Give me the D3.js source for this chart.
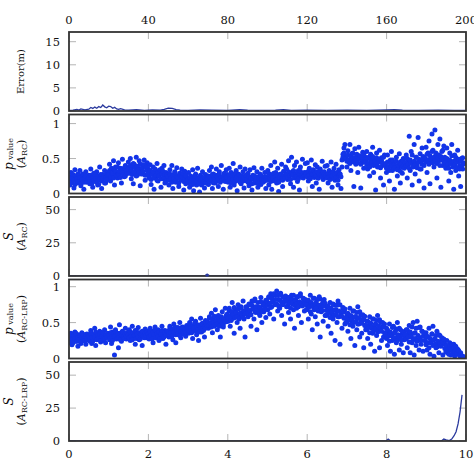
<!DOCTYPE html>
<html>
<head>
<meta charset="utf-8">
<script src="https://cdn.jsdelivr.net/npm/d3@7"></script>
<style>
  body { margin: 0; background: #fff; }
  text { font-family: "DejaVu Serif", "Liberation Serif", serif; fill: #111; }
</style>
</head>
<body>
<script>
var w = 474, h = 474,
    left = 69, right = 466,
    panelH = 79, panelGap = 3.5, firstTop = 32;

// top axis (time steps) and bottom axis
var topTicks = [0, 40, 80, 120, 160, 200],
    bottomTicks = [0, 2, 4, 6, 8, 10];

// panel 1: localisation error, over the 0..200 steps
var errT = [0, 2, 4, 5, 6, 8, 10, 11, 12, 13, 14, 15, 16, 17, 18, 19, 20, 21, 22, 23, 24, 25, 26, 28, 30, 34, 38, 42, 46, 48, 50, 52, 54, 56, 60, 66, 72, 80, 86, 90, 96, 104, 108, 112, 120, 130, 140, 150, 160, 164, 168, 176, 186, 194, 200];
var errV = [0.15, 0.2, 0.35, 0.2, 0.45, 0.25, 0.4, 0.75, 0.55, 0.85, 0.6, 0.95, 0.75, 1.3, 0.9, 0.7, 1.05, 0.95, 0.6, 0.8, 0.45, 0.35, 0.5, 0.25, 0.2, 0.3, 0.15, 0.25, 0.2, 0.35, 0.6, 0.55, 0.3, 0.2, 0.15, 0.25, 0.2, 0.15, 0.3, 0.2, 0.15, 0.2, 0.3, 0.15, 0.2, 0.15, 0.2, 0.15, 0.25, 0.3, 0.2, 0.15, 0.2, 0.15, 0.15];

// panel 2: p value A_RC, two runs of equally spaced samples from 0 to tEnd
var tEnd = 9.94;
var pArc = [
  0.21,0.12,0.30,0.18,0.25,0.08,0.34,0.22,0.15,0.28,0.19,0.33,0.11,0.24,0.27,0.06,0.20,0.31,0.16,0.23,
  0.26,0.14,0.35,0.20,0.09,0.29,0.22,0.17,0.31,0.12,0.25,0.38,0.19,0.07,0.27,0.23,0.33,0.15,0.28,0.21,
  0.30,0.42,0.18,0.35,0.26,0.47,0.12,0.38,0.31,0.22,0.44,0.28,0.36,0.15,0.49,0.33,0.24,0.40,0.29,0.37,
  0.45,0.32,0.50,0.21,0.38,0.14,0.42,0.30,0.52,0.26,0.36,0.47,0.11,0.34,0.41,0.28,0.48,0.19,0.39,0.44,
  0.35,0.22,0.41,0.13,0.29,0.38,0.06,0.31,0.25,0.43,0.18,0.33,0.27,0.09,0.36,0.21,0.40,0.15,0.30,0.24,
  0.28,0.12,0.34,0.20,0.40,0.07,0.25,0.31,0.16,0.37,0.23,0.10,0.29,0.19,0.35,0.26,0.05,0.32,0.14,0.22,
  0.20,0.30,0.09,0.25,0.16,0.34,0.04,0.22,0.28,0.12,0.36,0.18,0.02,0.26,0.14,0.31,0.21,0.08,0.27,0.17,
  0.24,0.13,0.33,0.19,0.38,0.07,0.28,0.22,0.15,0.35,0.26,0.10,0.31,0.18,0.40,0.23,0.06,0.29,0.20,0.34,
  0.27,0.16,0.36,0.09,0.30,0.22,0.43,0.12,0.25,0.33,0.04,0.28,0.19,0.38,0.14,0.24,0.31,0.08,0.35,0.21,
  0.18,0.29,0.11,0.34,0.22,0.05,0.26,0.37,0.15,0.24,0.31,0.09,0.20,0.28,0.13,0.36,0.23,0.17,0.30,0.07,
  0.22,0.33,0.12,0.28,0.40,0.06,0.25,0.19,0.45,0.30,0.15,0.36,0.03,0.27,0.21,0.42,0.10,0.32,0.24,0.38,
  0.35,0.20,0.47,0.28,0.14,0.52,0.31,0.09,0.40,0.24,0.45,0.17,0.33,0.05,0.38,0.27,0.49,0.22,0.30,0.43,
  0.30,0.44,0.18,0.36,0.25,0.48,0.10,0.33,0.27,0.41,0.15,0.38,0.22,0.06,0.35,0.29,0.46,0.20,0.31,0.39,
  0.27,0.40,0.15,0.33,0.22,0.45,0.09,0.30,0.36,0.19,0.42,0.25,0.12,0.34,0.28,0.07,0.38,0.56,0.65,0.70,
  0.52,0.38,0.61,0.45,0.70,0.33,0.57,0.48,0.10,0.64,0.42,0.55,0.30,0.66,0.50,0.08,0.44,0.59,0.36,0.53,
  0.47,0.60,0.35,0.52,0.25,0.56,0.42,0.66,0.30,0.49,0.05,0.58,0.38,0.45,0.62,0.22,0.51,0.40,0.12,0.55,
  0.43,0.30,0.55,0.38,0.18,0.48,0.60,0.33,0.45,0.06,0.40,0.52,0.25,0.36,0.57,0.15,0.46,0.29,0.50,0.41,
  0.38,0.55,0.22,0.47,0.82,0.33,0.60,0.12,0.44,0.70,0.28,0.52,0.40,0.80,0.18,0.57,0.35,0.65,0.48,0.08,
  0.50,0.66,0.30,0.58,0.75,0.14,0.45,0.85,0.62,0.38,0.91,0.55,0.22,0.70,0.47,0.78,0.09,0.60,0.40,0.68,
  0.52,0.36,0.65,0.45,0.18,0.58,0.30,0.70,0.42,0.06,0.55,0.33,0.48,0.62,0.25,0.40,0.10,0.50,0.35,0.44
];
var pArcB = [
  0.18,0.24,0.15,0.22,0.27,0.19,0.13,0.25,0.21,0.17,0.26,0.23,0.14,0.20,0.28,0.16,0.22,0.25,0.18,0.21,
  0.22,0.17,0.26,0.14,0.23,0.19,0.28,0.21,0.16,0.24,0.13,0.20,0.27,0.18,0.22,0.25,0.15,0.23,0.19,0.26,
  0.27,0.33,0.24,0.36,0.29,0.22,0.34,0.31,0.26,0.38,0.28,0.32,0.23,0.35,0.30,0.27,0.37,0.25,0.33,0.29,
  0.35,0.29,0.40,0.33,0.27,0.43,0.31,0.37,0.25,0.39,0.34,0.30,0.42,0.28,0.36,0.32,0.41,0.26,0.38,0.33,
  0.29,0.24,0.33,0.20,0.27,0.31,0.22,0.35,0.26,0.19,0.30,0.25,0.34,0.21,0.28,0.32,0.23,0.27,0.18,0.26,
  0.24,0.19,0.28,0.22,0.16,0.26,0.21,0.30,0.18,0.25,0.23,0.15,0.27,0.20,0.24,0.29,0.17,0.22,0.26,0.19,
  0.19,0.15,0.23,0.17,0.21,0.13,0.20,0.25,0.16,0.18,0.22,0.14,0.24,0.19,0.12,0.21,0.17,0.23,0.15,0.20,
  0.21,0.25,0.17,0.23,0.19,0.27,0.15,0.22,0.26,0.18,0.24,0.20,0.28,0.16,0.23,0.19,0.25,0.21,0.17,0.24,
  0.23,0.18,0.26,0.21,0.15,0.25,0.20,0.28,0.17,0.22,0.24,0.19,0.27,0.16,0.21,0.25,0.18,0.23,0.20,0.26,
  0.20,0.16,0.24,0.18,0.22,0.14,0.21,0.25,0.17,0.19,0.23,0.15,0.22,0.18,0.26,0.20,0.16,0.21,0.24,0.19,
  0.23,0.19,0.27,0.21,0.17,0.25,0.22,0.29,0.18,0.24,0.20,0.26,0.16,0.23,0.28,0.21,0.19,0.25,0.22,0.27,
  0.27,0.23,0.31,0.25,0.20,0.29,0.26,0.33,0.22,0.28,0.24,0.30,0.21,0.27,0.32,0.25,0.23,0.29,0.26,0.28,
  0.28,0.24,0.32,0.26,0.21,0.30,0.27,0.34,0.23,0.29,0.25,0.31,0.22,0.28,0.33,0.26,0.24,0.30,0.27,0.25,
  0.26,0.22,0.29,0.24,0.20,0.28,0.25,0.31,0.21,0.27,0.23,0.30,0.19,0.26,0.28,0.24,0.48,0.52,0.58,0.50,
  0.50,0.46,0.55,0.48,0.43,0.53,0.49,0.58,0.45,0.51,0.47,0.56,0.44,0.50,0.54,0.42,0.52,0.48,0.57,0.46,
  0.45,0.41,0.50,0.43,0.38,0.48,0.44,0.53,0.40,0.46,0.42,0.51,0.39,0.45,0.49,0.37,0.47,0.43,0.52,0.41,
  0.40,0.36,0.45,0.38,0.33,0.43,0.39,0.48,0.35,0.41,0.37,0.46,0.34,0.40,0.44,0.32,0.42,0.38,0.47,0.36,
  0.44,0.40,0.50,0.42,0.36,0.48,0.43,0.55,0.38,0.46,0.41,0.52,0.37,0.45,0.49,0.35,0.47,0.42,0.53,0.40,
  0.50,0.45,0.56,0.48,0.42,0.54,0.49,0.60,0.44,0.52,0.47,0.58,0.43,0.51,0.55,0.40,0.53,0.48,0.62,0.46,
  0.44,0.39,0.50,0.42,0.36,0.48,0.43,0.54,0.38,0.46,0.41,0.52,0.37,0.45,0.49,0.35,0.47,0.40,0.51,0.42
];

// panel 3: S for A_RC
var sArcT = [0, 3.40, 3.48, 3.56, 9.94];
var sArcV = [0, 0, 1.2, 0, 0];

// panel 4: p value A_RC-LRP, two runs
var pLrp = [
  0.28,0.22,0.35,0.19,0.31,0.26,0.37,0.24,0.30,0.17,0.33,0.27,0.21,0.36,0.29,0.25,0.32,0.20,0.34,0.26,
  0.30,0.24,0.39,0.21,0.33,0.28,0.42,0.18,0.35,0.27,0.31,0.38,0.23,0.29,0.36,0.25,0.40,0.22,0.32,0.34,
  0.33,0.26,0.44,0.21,0.37,0.30,0.05,0.40,0.28,0.35,0.15,0.47,0.31,0.24,0.38,0.34,0.29,0.42,0.27,0.36,
  0.32,0.40,0.25,0.36,0.45,0.28,0.34,0.20,0.39,0.31,0.43,0.26,0.35,0.30,0.18,0.37,0.33,0.41,0.29,0.38,
  0.34,0.27,0.42,0.31,0.38,0.22,0.36,0.44,0.29,0.33,0.40,0.25,0.37,0.31,0.45,0.28,0.35,0.39,0.20,0.32,
  0.37,0.30,0.45,0.34,0.41,0.26,0.48,0.36,0.22,0.39,0.43,0.33,0.50,0.29,0.38,0.44,0.35,0.40,0.31,0.46,
  0.42,0.35,0.50,0.38,0.55,0.28,0.45,0.40,0.52,0.33,0.47,0.25,0.43,0.56,0.37,0.49,0.41,0.30,0.53,0.44,
  0.50,0.42,0.58,0.47,0.63,0.36,0.55,0.45,0.68,0.52,0.40,0.60,0.48,0.30,0.57,0.65,0.44,0.54,0.70,0.51,
  0.60,0.52,0.70,0.45,0.65,0.78,0.56,0.35,0.68,0.62,0.50,0.75,0.58,0.42,0.72,0.64,0.80,0.55,0.30,0.67,
  0.66,0.58,0.75,0.62,0.45,0.80,0.70,0.55,0.83,0.64,0.40,0.72,0.68,0.60,0.85,0.50,0.74,0.65,0.78,0.57,
  0.75,0.68,0.85,0.62,0.90,0.72,0.80,0.55,0.88,0.76,0.94,0.66,0.82,0.70,0.91,0.60,0.86,0.78,0.48,0.84,
  0.72,0.85,0.64,0.80,0.55,0.88,0.76,0.68,0.42,0.82,0.70,0.86,0.60,0.78,0.90,0.50,0.74,0.83,0.66,0.79,
  0.68,0.80,0.55,0.75,0.88,0.62,0.40,0.72,0.84,0.58,0.78,0.48,0.70,0.86,0.30,0.65,0.76,0.52,0.82,0.60,
  0.60,0.72,0.45,0.66,0.78,0.35,0.62,0.55,0.75,0.25,0.68,0.50,0.80,0.58,0.20,0.64,0.42,0.70,0.56,0.48,
  0.50,0.62,0.38,0.56,0.70,0.28,0.52,0.45,0.66,0.18,0.58,0.40,0.72,0.48,0.30,0.60,0.35,0.54,0.15,0.46,
  0.40,0.52,0.28,0.46,0.58,0.20,0.42,0.35,0.55,0.10,0.48,0.32,0.60,0.38,0.15,0.50,0.25,0.44,0.30,0.36,
  0.30,0.42,0.18,0.35,0.48,0.10,0.32,0.25,0.45,0.06,0.38,0.22,0.50,0.28,0.12,0.40,0.20,0.34,0.08,0.26,
  0.28,0.40,0.15,0.34,0.46,0.08,0.30,0.22,0.50,0.05,0.36,0.18,0.52,0.26,0.12,0.44,0.20,0.38,0.10,0.32,
  0.25,0.36,0.12,0.30,0.42,0.06,0.22,0.34,0.45,0.03,0.28,0.15,0.38,0.20,0.08,0.32,0.18,0.26,0.05,0.24,
  0.20,0.14,0.25,0.08,0.18,0.22,0.05,0.15,0.12,0.20,0.03,0.10,0.14,0.07,0.09,0.04,0.06,0.02,0.03,0.01
];
var pLrpB = [
  0.30,0.25,0.33,0.27,0.22,0.31,0.28,0.35,0.24,0.29,0.26,0.32,0.23,0.30,0.34,0.27,0.25,0.31,0.28,0.33,
  0.31,0.27,0.35,0.29,0.24,0.33,0.30,0.37,0.26,0.32,0.28,0.34,0.25,0.31,0.36,0.29,0.27,0.33,0.30,0.35,
  0.32,0.28,0.36,0.30,0.25,0.34,0.31,0.38,0.27,0.33,0.29,0.35,0.26,0.32,0.37,0.30,0.28,0.34,0.31,0.36,
  0.33,0.29,0.37,0.31,0.26,0.35,0.32,0.39,0.28,0.34,0.30,0.36,0.27,0.33,0.38,0.31,0.29,0.35,0.32,0.37,
  0.34,0.30,0.38,0.32,0.27,0.36,0.33,0.40,0.29,0.35,0.31,0.37,0.28,0.34,0.39,0.32,0.30,0.36,0.33,0.38,
  0.38,0.34,0.42,0.36,0.31,0.40,0.37,0.44,0.33,0.39,0.35,0.41,0.32,0.38,0.43,0.36,0.34,0.40,0.37,0.42,
  0.43,0.39,0.47,0.41,0.36,0.45,0.42,0.49,0.38,0.44,0.40,0.46,0.37,0.43,0.48,0.41,0.39,0.45,0.42,0.47,
  0.51,0.46,0.56,0.49,0.44,0.54,0.50,0.59,0.47,0.53,0.48,0.57,0.45,0.52,0.58,0.49,0.47,0.55,0.51,0.60,
  0.62,0.56,0.67,0.59,0.53,0.65,0.61,0.71,0.57,0.64,0.58,0.69,0.55,0.63,0.70,0.60,0.57,0.66,0.62,0.72,
  0.70,0.64,0.76,0.67,0.61,0.74,0.69,0.80,0.65,0.72,0.66,0.78,0.63,0.71,0.79,0.68,0.65,0.75,0.70,0.81,
  0.80,0.74,0.86,0.77,0.71,0.84,0.79,0.90,0.75,0.82,0.76,0.88,0.73,0.81,0.89,0.78,0.75,0.85,0.80,0.87,
  0.80,0.74,0.85,0.77,0.70,0.83,0.78,0.88,0.74,0.81,0.76,0.86,0.72,0.79,0.87,0.77,0.73,0.84,0.79,0.82,
  0.75,0.69,0.81,0.72,0.65,0.78,0.73,0.84,0.68,0.76,0.70,0.82,0.66,0.74,0.83,0.71,0.67,0.79,0.73,0.77,
  0.67,0.61,0.73,0.64,0.57,0.70,0.65,0.76,0.60,0.68,0.62,0.74,0.58,0.66,0.75,0.63,0.59,0.71,0.65,0.69,
  0.57,0.51,0.63,0.54,0.47,0.60,0.55,0.66,0.50,0.58,0.52,0.64,0.48,0.56,0.65,0.53,0.49,0.61,0.55,0.59,
  0.46,0.40,0.52,0.43,0.36,0.49,0.44,0.55,0.39,0.47,0.41,0.53,0.37,0.45,0.54,0.42,0.38,0.50,0.44,0.48,
  0.34,0.28,0.40,0.31,0.24,0.37,0.32,0.43,0.27,0.35,0.29,0.41,0.25,0.33,0.42,0.30,0.26,0.38,0.32,0.36,
  0.33,0.27,0.40,0.30,0.23,0.37,0.31,0.44,0.26,0.35,0.28,0.42,0.24,0.32,0.43,0.29,0.25,0.38,0.31,0.36,
  0.25,0.19,0.31,0.22,0.15,0.28,0.23,0.34,0.18,0.26,0.20,0.32,0.16,0.24,0.33,0.21,0.17,0.29,0.23,0.27,
  0.14,0.09,0.18,0.11,0.06,0.16,0.12,0.20,0.08,0.15,0.10,0.17,0.07,0.13,0.11,0.05,0.08,0.04,0.03,0.02
];

// panel 5: S for A_RC-LRP
var sLrpT = [0, 7.98, 8.04, 8.10, 9.38, 9.44, 9.50, 9.58, 9.64, 9.70, 9.75, 9.80, 9.85, 9.90];
var sLrpV = [0, 0, 1.5, 0, 0, 1.5, 0.8, 0.3, 1.5, 4, 7, 13, 22, 35];

var lineColor = "#2b3a9e", dotColor = "#1234e8";

var svg = d3.select("body").append("svg")
    .attr("width", w)
    .attr("height", h)

var x = d3.scaleLinear().domain([0, 10]).range([left, right]),
    xTop = d3.scaleLinear().domain([0, 200]).range([left, right]),
    idx = function (n) { return d3.scaleLinear().domain([0, n - 1]).range([0, tEnd]) };

var halfFmt = function (d) { return d === 0.5 ? "0.5" : d };
var panels = [
  { max: 17.1, ticks: [0, 5, 10, 15], fmt: d3.format("d") },
  { max: 1.13, ticks: [0, 0.5, 1], fmt: halfFmt },
  { max: 59.5, ticks: [0, 25, 50], fmt: d3.format("d") },
  { max: 1.1, ticks: [0, 0.5, 1], fmt: halfFmt },
  { max: 60, ticks: [0, 25, 50], fmt: d3.format("d") }
];

panels.forEach(function (p, i) {
  var top = firstTop + i * (panelH + panelGap), bottom = top + panelH;
  p.top = top; p.bottom = bottom;
  p.y = d3.scaleLinear().domain([0, p.max]).range([bottom, top]);

  var g = svg.append("g").attr("class", "panel");

  svg.append("clipPath").attr("id", "clip" + i)
    .append("rect").attr("x", left).attr("y", top).attr("width", right - left).attr("height", panelH);

  // inner tick marks
  var tk = g.append("g").attr("stroke", "#b4b4b4").attr("stroke-width", 1);
  bottomTicks.forEach(function (t) {
    tk.append("line").attr("x1", x(t)).attr("x2", x(t)).attr("y1", top).attr("y2", top + 7);
    tk.append("line").attr("x1", x(t)).attr("x2", x(t)).attr("y1", bottom).attr("y2", bottom - 7);
  });
  p.ticks.forEach(function (t) {
    tk.append("line").attr("x1", left).attr("x2", left + 7).attr("y1", p.y(t)).attr("y2", p.y(t));
    tk.append("line").attr("x1", right).attr("x2", right - 7).attr("y1", p.y(t)).attr("y2", p.y(t));
  });

  // y tick labels
  g.selectAll(".ylab").data(p.ticks).enter().append("text")
    .attr("x", 60).attr("y", function (d) { return p.y(d) })
    .attr("dy", "0.36em").attr("text-anchor", "end").attr("font-size", 11.5)
    .text(p.fmt);

  p.g = g.append("g").attr("clip-path", "url(#clip" + i + ")");
  p.frame = g;
});

// panel 1 line
var p1 = panels[0];
p1.g.append("path")
  .attr("d", d3.line().x(function (d, i) { return xTop(errT[i]) }).y(function (d) { return p1.y(d) })(errV))
  .attr("fill", "none").attr("stroke", lineColor).attr("stroke-width", 1.3);

// scatter panels
[[panels[1], pArc], [panels[1], pArcB], [panels[3], pLrp], [panels[3], pLrpB]].forEach(function (pair) {
  var p = pair[0], vals = pair[1], t = idx(vals.length);
  p.g.append("g").selectAll("circle").data(vals).enter().append("circle")
    .attr("cx", function (d, i) { return x(t(i)) })
    .attr("cy", function (d) { return p.y(d) })
    .attr("r", 2.5)
    .attr("fill", dotColor);
});

// S lines
[[panels[2], sArcT, sArcV], [panels[4], sLrpT, sLrpV]].forEach(function (s) {
  var p = s[0], tt = s[1];
  p.g.append("path")
    .attr("d", d3.line().x(function (d, i) { return x(tt[i]) }).y(function (d) { return p.y(d) })(s[2]))
    .attr("fill", "none").attr("stroke", lineColor).attr("stroke-width", 1.3);
});
svg.append("circle").attr("cx", x(3.48)).attr("cy", panels[2].y(0.6)).attr("r", 1.6).attr("fill", lineColor);

// frames on top
panels.forEach(function (p) {
  p.frame.append("rect").attr("x", left).attr("y", p.top).attr("width", right - left).attr("height", panelH)
    .attr("fill", "none").attr("stroke", "#333").attr("stroke-width", 1.8);
});

// top and bottom tick labels
svg.selectAll(".toplab").data(topTicks).enter().append("text")
  .attr("x", function (d) { return xTop(d) }).attr("y", 24)
  .attr("text-anchor", "middle").attr("font-size", 11.5).text(function (d) { return d });
svg.selectAll(".botlab").data(bottomTicks).enter().append("text")
  .attr("x", function (d) { return x(d) }).attr("y", 458)
  .attr("text-anchor", "middle").attr("font-size", 11.5).text(function (d) { return d });

// y axis titles, rotated
function title(p, lines) {
  var cy = (p.top + p.bottom) / 2;
  lines.forEach(function (ln) {
    var t = svg.append("text")
      .attr("transform", "translate(" + ln.x + "," + cy + ") rotate(-90)")
      .attr("text-anchor", "middle");
    ln.parts.forEach(function (pt) {
      var ts = t.append("tspan").attr("font-size", pt.size || 11).text(pt.text);
      if (pt.italic) ts.attr("font-style", "italic");
      if (pt.sub) ts.attr("baseline-shift", "-25%");
    });
  });
}
var subArc = [{ text: "(", size: 11 }, { text: "A", italic: true, size: 11 }, { text: "RC", size: 8, sub: true }, { text: ")", size: 11 }],
    subLrp = [{ text: "(", size: 11 }, { text: "A", italic: true, size: 11 }, { text: "RC-LRP", size: 8, sub: true }, { text: ")", size: 11 }];
title(panels[0], [{ x: 24, parts: [{ text: "Error(m)", size: 10 }] }]);
title(panels[1], [{ x: 13, parts: [{ text: "p", italic: true, size: 12 }, { text: " value", size: 8 }] }, { x: 25, parts: subArc }]);
title(panels[2], [{ x: 13, parts: [{ text: "S", italic: true, size: 12 }] }, { x: 25, parts: subArc }]);
title(panels[3], [{ x: 13, parts: [{ text: "p", italic: true, size: 12 }, { text: " value", size: 8 }] }, { x: 25, parts: subLrp }]);
title(panels[4], [{ x: 13, parts: [{ text: "S", italic: true, size: 12 }] }, { x: 25, parts: subLrp }]);
</script>
</body>
</html>
